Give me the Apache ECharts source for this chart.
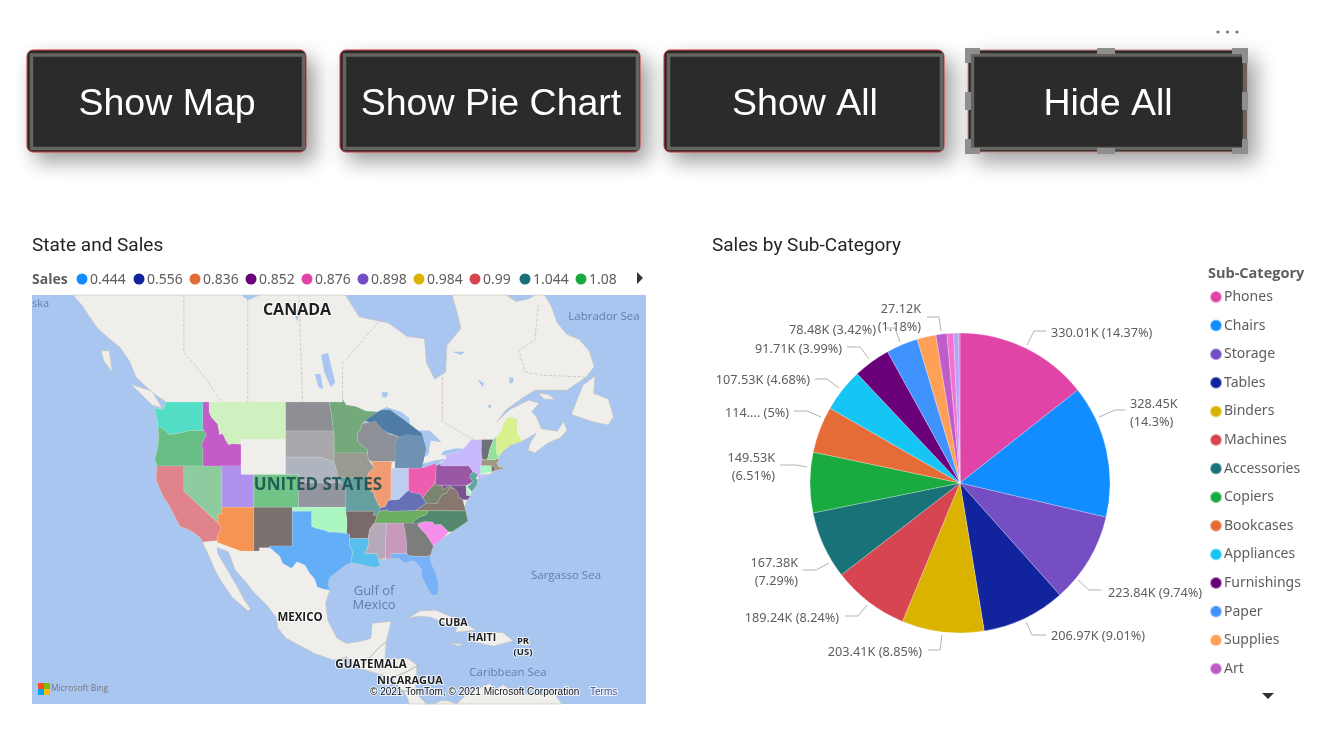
<!DOCTYPE html>
<html>
<head>
    <meta charset="UTF-8">
    <title>State and Sales</title>
    <script src="https://cdn.jsdelivr.net/npm/echarts@6/dist/echarts.min.js"></script>
    <style>
        html, body { margin: 0; background: #fff; }
        #main { width: 1328px; height: 745px; }
    </style>
</head>
<body>
<div id="main"></div>
<script type="text/javascript">
    // pie data
    var subCategories = ['Phones', 'Chairs', 'Storage', 'Tables', 'Binders', 'Machines', 'Accessories', 'Copiers', 'Bookcases', 'Appliances', 'Furnishings', 'Paper', 'Supplies', 'Art', 'Envelopes', 'Labels', 'Fasteners'];
    var subCategorySales = [330.01, 328.45, 223.84, 206.97, 203.41, 189.24, 167.38, 149.53, 114.88, 107.53, 91.71, 78.48, 46.67, 27.12, 16.48, 12.49, 3.02];
    var subCategoryColors = ['#E044A7', '#118DFF', '#744EC2', '#12239E', '#D9B300', '#D64550', '#197278', '#1AAB40', '#E66C37', '#15C6F4', '#6B007B', '#4092FF', '#FFA058', '#BE5DC9', '#F472D0', '#B5A1FF', '#C4A200'];
    var legendVisible = 14;

    // map legend
    var salesBuckets = ['0.444', '0.556', '0.836', '0.852', '0.876', '0.898', '0.984', '0.99', '1.044', '1.08'];
    var salesBucketColors = ['#118DFF', '#12239E', '#E66C37', '#6B007B', '#E044A7', '#744EC2', '#D9B300', '#D64550', '#197278', '#1AAB40'];
    var salesBucketX = [82, 139, 195, 251, 307, 363, 419, 475, 525, 581];

    var buttonLabels = ['Show Map', 'Show Pie Chart', 'Show All', 'Hide All'];

    // outlines in lon/lat, drawn in this order
    var land = {
        Continent: [[-137.4,58.83],[-136,58],[-135,57.2],[-133.5,56],[-131.5,55],[-130,54.3],[-128.5,53],[-127.5,51.5],[-125,50],[-123.2,49.2],[-122.8,49],[-123.2,48.2],[-124.7,48.4],[-124.1,47],[-124.05,46.27],[-123.95,45.3],[-124.1,44],[-124.55,42.85],[-124.2,42],[-124.35,40.4],[-123.8,39.3],[-123,38],[-122.5,37.5],[-121.9,36.6],[-120.6,34.55],[-119.2,34.15],[-118.4,33.75],[-117.3,33],[-117.12,32.53],[-116,30.5],[-115,28.5],[-114,27],[-112.5,25],[-110,23],[-109.5,23.2],[-110.5,24.5],[-111.5,26.2],[-113,28.5],[-114.7,31],[-114.8,31.8],[-113,31.2],[-112,28.8],[-110.5,27.3],[-109,25.6],[-107,23.8],[-105.5,22],[-105.3,20.5],[-104,19],[-102,18],[-99.5,16.7],[-96.5,15.7],[-94.5,16.2],[-92.5,14.5],[-90.5,13.9],[-88,13.2],[-87.5,13],[-85.7,11],[-85,10],[-84.7,9],[-77.3,9],[-78.5,9.45],[-79.6,9.55],[-80.8,9.02],[-82,9.02],[-83,10],[-83.7,11],[-83.5,15],[-85,16],[-88.5,15.8],[-88.3,18.5],[-87.5,21.5],[-90.5,21.2],[-90.7,19],[-92,18.6],[-94.5,18.2],[-96,19],[-97.4,21.5],[-97.8,24],[-97.15,25.95],[-97.4,26.8],[-97.2,27.7],[-95.9,28.6],[-94.7,29.4],[-93.85,29.7],[-92.3,29.55],[-91.3,29.3],[-90.2,29.1],[-89.2,29.3],[-89.55,30.2],[-88.1,30.25],[-87.5,30.3],[-86.4,30.4],[-85.3,29.65],[-84.4,30],[-83.8,30],[-82.8,28.9],[-82.7,27.8],[-81.8,26.1],[-81.1,25.15],[-80.2,25.4],[-80.05,26.8],[-80.5,28.3],[-81.3,29.8],[-81.4,30.72],[-80.9,32.05],[-79.3,33.1],[-77.9,33.9],[-76.5,34.7],[-75.5,35.25],[-75.85,36.55],[-76,37],[-75.6,37.95],[-75.05,38.45],[-74.9,38.93],[-74.1,39.75],[-74,40.4],[-73.7,40.58],[-72,41.05],[-71.15,41.5],[-70.7,41.55],[-70,41.65],[-70.05,41.95],[-70.55,41.8],[-71,42.3],[-70.6,42.65],[-70.7,43.07],[-70,43.75],[-68.8,44.4],[-67,44.85],[-66,45.2],[-64.8,45.7],[-65.7,44.7],[-66.1,43.8],[-65,43.5],[-63,44.6],[-61,45.2],[-60,46],[-60.5,47],[-61.5,45.9],[-64,46.2],[-64.8,47.5],[-65.5,48],[-64.3,48.9],[-66,49.2],[-69,48.2],[-71,46.9],[-69.5,48.2],[-67,49.4],[-65,50.2],[-60,50.2],[-57,51.5],[-55.7,52.5],[-56.5,54],[-58,55],[-60,55.5],[-61.5,56.5],[-62.5,58],[-63.5,58.83],[-65,58.83],[-66,58.5],[-68,58.3],[-69.5,58.83],[-78,58.83],[-77,57],[-76.6,56],[-78.8,54.5],[-79,52],[-80.7,51.3],[-82,52.9],[-82.3,55.1],[-85,55.3],[-88,56.5],[-92.5,57],[-94.7,58.83]],
        Newfoundland: [[-59.3,47.7],[-57.5,50.7],[-55.6,51.6],[-55.8,49.9],[-53.5,49.3],[-52.7,47.5],[-53.5,46.6],[-55.8,46.9]],
        Anticosti: [[-64.5,49.9],[-63,49.8],[-61.8,49.3],[-63.5,49.3]],
        VancouverIsland: [[-128.3,50.8],[-125,50.1],[-123.4,48.4],[-125,48.7]],
        HaidaGwaii: [[-133,54],[-131.7,54],[-131.2,52],[-132.5,53]],
        Cuba: [[-84.9,21.9],[-83,23],[-80.5,23.1],[-77,21.7],[-74.2,20.2],[-77.5,19.85],[-77.2,20.6],[-78.5,21],[-81.5,22.1],[-83.5,22.2]],
        Hispaniola: [[-74.4,18.4],[-73,19.9],[-70,19.8],[-68.4,18.6],[-71.5,17.8]],
        Jamaica: [[-78.3,18.3],[-76.3,18.1],[-77,17.8]],
        PuertoRico: [[-67.2,18.4],[-65.7,18.4],[-65.8,18],[-67.2,18]],
        SouthAmerica: [[-77.3,9],[-75.5,10.7],[-74,11.3],[-72,12.2],[-71.5,11],[-70,12],[-68,10.6],[-64,10.4],[-62,10.7],[-60.8,9]]
    };
    var lakes = {
        Superior: [[-92.1,46.75],[-89.6,48],[-88.3,48.5],[-86,48],[-84.7,47.3],[-84.6,46.5],[-87.5,46.5],[-89,46.9],[-90.4,46.9]],
        Huron: [[-84.7,46],[-83.5,46],[-81.5,46],[-80,45],[-79.7,44.7],[-81.3,44.9],[-81.7,43.3],[-82.4,43],[-82.9,44],[-83.4,45],[-84.7,45.8]],
        Erie: [[-83.45,41.72],[-82.4,41.5],[-80.5,42],[-78.9,42.85],[-80.5,42.65],[-83,42.2]],
        Ontario: [[-79.75,43.3],[-79.05,43.27],[-76.8,43.63],[-76.2,44],[-77.5,44],[-79.3,43.7]],
        Winnipeg: [[-98.5,53.6],[-97.4,53.8],[-96.3,51],[-97,50.5],[-98,52]],
        Manitoba: [[-99.5,51.8],[-98.6,51.8],[-98.2,50.3],[-98.9,50.5]],
        Athabasca: [[-111,58.83],[-108,58.83],[-110,58.4]],
        Reindeer: [[-103,57.6],[-102,57.6],[-102.2,56.6]],
        Nipigon: [[-89,50],[-88,50],[-88.2,49.5],[-88.9,49.5]],
        Mistassini: [[-74,51.3],[-73,50.9],[-73.2,50.5]],
        Manicouagan: [[-69,51.5],[-68.3,51.4],[-68.5,50.9],[-69,50.9]],
        StJohn: [[-72.5,48.7],[-71.8,48.7],[-72,48.3]],
        Robert: [[-78,53.9],[-76,53.9],[-76.5,53.6]]
    };
    var states = {
        WA: [[-124.7,48.4],[-123.2,48.2],[-122.8,49],[-117.03,49],[-117.04,46.4],[-116.92,46],[-118.98,46],[-119.3,45.93],[-121.2,45.65],[-122.3,45.55],[-122.8,45.9],[-123.4,46.25],[-124.05,46.27],[-124.1,47]],
        OR: [[-124.05,46.27],[-123.4,46.25],[-122.8,45.9],[-122.3,45.55],[-121.2,45.65],[-119.3,45.93],[-118.98,46],[-116.92,46],[-116.46,45.6],[-117.2,44.45],[-117.03,43.8],[-117.03,42],[-124.2,42],[-124.55,42.85],[-124.1,44],[-123.95,45.3]],
        CA: [[-124.2,42],[-120,42],[-120,39],[-114.63,35],[-114.15,34.3],[-114.72,33.4],[-114.72,32.72],[-117.12,32.53],[-117.3,33],[-118.4,33.75],[-119.2,34.15],[-120.6,34.55],[-121.9,36.6],[-122.5,37.5],[-123,38],[-123.8,39.3],[-124.35,40.4]],
        NV: [[-120,42],[-114.04,42],[-114.04,36.2],[-114.7,36.1],[-114.63,35],[-120,39]],
        ID: [[-117.03,49],[-116.05,49],[-116.05,48],[-115.7,47.45],[-114.7,46.7],[-114.4,45.55],[-113.9,45.65],[-113.45,44.95],[-113,44.45],[-112.3,44.55],[-111.05,44.48],[-111.05,42],[-117.03,42],[-117.03,43.8],[-117.2,44.45],[-116.46,45.6],[-116.92,46],[-117.04,46.4]],
        MT: [[-116.05,49],[-104.05,49],[-104.05,45],[-111.05,45],[-111.05,44.48],[-112.3,44.55],[-113,44.45],[-113.45,44.95],[-113.9,45.65],[-114.4,45.55],[-114.7,46.7],[-115.7,47.45],[-116.05,48]],
        WY: [[-111.05,45],[-104.05,45],[-104.05,41],[-111.05,41]],
        UT: [[-114.04,42],[-111.05,42],[-111.05,41],[-109.05,41],[-109.05,37],[-114.04,37]],
        AZ: [[-114.04,37],[-109.05,37],[-109.05,31.33],[-111.07,31.33],[-114.81,32.5],[-114.72,32.72],[-114.72,33.4],[-114.15,34.3],[-114.63,35],[-114.7,36.1],[-114.04,36.2]],
        CO: [[-109.05,41],[-102.05,41],[-102.05,37],[-109.05,37]],
        NM: [[-109.05,37],[-103,37],[-103,32],[-106.6,32],[-106.53,31.78],[-108.2,31.78],[-108.2,31.33],[-109.05,31.33]],
        ND: [[-104.05,49],[-97.23,49],[-96.85,47.6],[-96.56,45.94],[-104.05,45.94]],
        SD: [[-104.05,45.94],[-96.56,45.94],[-96.45,45.3],[-96.45,43.5],[-96.5,42.5],[-97.9,42.8],[-98.5,43],[-104.05,43]],
        NE: [[-104.05,43],[-98.5,43],[-97.9,42.8],[-96.5,42.5],[-96.1,41.5],[-95.3,40],[-102.05,40],[-102.05,41],[-104.05,41]],
        KS: [[-102.05,40],[-95.3,40],[-94.62,39.1],[-94.62,37],[-102.05,37]],
        OK: [[-103,37],[-94.62,37],[-94.43,35.4],[-94.48,33.64],[-96,33.8],[-97.2,33.8],[-98.1,34.1],[-99.2,34.3],[-100,34.56],[-100,36.5],[-103,36.5]],
        TX: [[-106.6,32],[-103,32],[-103,36.5],[-100,36.5],[-100,34.56],[-99.2,34.3],[-98.1,34.1],[-97.2,33.8],[-96,33.8],[-94.48,33.64],[-94.04,33.55],[-94.04,32],[-93.55,31.2],[-93.85,29.7],[-94.7,29.4],[-95.9,28.6],[-97.2,27.7],[-97.4,26.8],[-97.15,25.95],[-98.2,26.1],[-99.1,26.4],[-99.5,27.5],[-100.3,28.3],[-101,29.4],[-102.3,29.88],[-103.15,28.98],[-104.5,29.65],[-105,30.65],[-106.53,31.78]],
        MN: [[-97.23,49],[-95.15,49],[-95.15,49.38],[-94.6,48.72],[-93,48.55],[-91.5,48.07],[-89.6,48],[-92.1,46.75],[-92.3,46.1],[-92.85,45.6],[-92.75,44.75],[-91.25,43.85],[-91.22,43.5],[-96.45,43.5],[-96.45,45.3],[-96.56,45.94],[-96.85,47.6]],
        IA: [[-96.45,43.5],[-91.22,43.5],[-91.1,42.7],[-90.15,41.8],[-91.05,41.2],[-91.4,40.4],[-91.72,40.6],[-95.77,40.58],[-96.1,41.5],[-96.5,42.5]],
        MO: [[-95.77,40.58],[-91.72,40.6],[-91.4,40.4],[-91.5,40],[-90.7,39],[-90.15,38.8],[-90.2,38.4],[-89.5,37.3],[-89.15,36.98],[-89.4,36.5],[-89.7,36],[-90.37,36],[-90.15,36.5],[-94.62,36.5],[-94.62,39.1],[-95.3,40]],
        AR: [[-94.62,36.5],[-90.15,36.5],[-90.37,36],[-89.7,36],[-90.1,35],[-90.9,34.2],[-91.15,33],[-94.04,33],[-94.04,33.55],[-94.48,33.64],[-94.43,35.4]],
        LA: [[-94.04,33],[-91.15,33],[-91,32.3],[-91.6,31],[-89.75,31],[-89.55,30.2],[-89.2,29.3],[-90.2,29.1],[-91.3,29.3],[-92.3,29.55],[-93.85,29.7],[-93.55,31.2],[-94.04,32]],
        MS: [[-90.3,35],[-88.2,35],[-88.4,33],[-88.4,30.35],[-89.55,30.2],[-89.75,31],[-91.6,31],[-91,32.3],[-91.15,33],[-90.9,34.2]],
        AL: [[-88.2,35],[-85.6,35],[-85.15,32.8],[-85.05,31],[-87.6,31],[-87.5,30.3],[-88.1,30.25],[-88.4,30.35],[-88.4,33]],
        GA: [[-85.6,35],[-83.1,35],[-83.35,34.7],[-81.9,33.4],[-80.9,32.05],[-81.4,30.72],[-82.2,30.57],[-84.87,30.7],[-85.05,31],[-85.15,32.8]],
        FL: [[-87.6,31],[-85.05,31],[-84.87,30.7],[-82.2,30.57],[-81.4,30.72],[-81.3,29.8],[-80.5,28.3],[-80.05,26.8],[-80.2,25.4],[-81.1,25.15],[-81.8,26.1],[-82.7,27.8],[-82.8,28.9],[-83.8,30],[-84.4,30],[-85.3,29.65],[-86.4,30.4],[-87.5,30.3]],
        SC: [[-83.35,34.7],[-83.1,35],[-82.3,35.2],[-81,35.15],[-80.8,34.82],[-79.67,34.8],[-78.55,33.86],[-79.3,33.1],[-80.9,32.05],[-81.9,33.4]],
        NC: [[-84.32,35],[-83.1,35],[-82.3,35.2],[-81,35.15],[-80.8,34.82],[-79.67,34.8],[-78.55,33.86],[-77.9,33.9],[-76.5,34.7],[-75.5,35.25],[-75.85,36.55],[-81.68,36.59],[-82,36.1],[-83.2,35.75]],
        TN: [[-90.1,35],[-88.2,35],[-85.6,35],[-84.32,35],[-83.2,35.75],[-82,36.1],[-81.68,36.59],[-83.68,36.6],[-88.07,36.5],[-88.07,36.68],[-89.4,36.5],[-89.7,36]],
        KY: [[-89.4,36.5],[-88.07,36.68],[-88.07,36.5],[-83.68,36.6],[-81.97,37.54],[-82.6,38.17],[-83,38.7],[-84.2,38.8],[-84.8,39.1],[-85.4,38.7],[-86.3,38],[-87.6,37.9],[-88.05,37.8],[-88.45,37.1],[-89.15,36.98]],
        VA: [[-83.68,36.6],[-81.68,36.59],[-75.85,36.55],[-76,37],[-76.3,37.9],[-77,38.3],[-77.05,38.85],[-77.7,39.32],[-78.35,39.4],[-78.85,38.75],[-79.65,38.55],[-80.3,37.5],[-81.97,37.54]],
        WV: [[-81.97,37.54],[-80.3,37.5],[-79.65,38.55],[-78.85,38.75],[-78.35,39.4],[-77.7,39.32],[-78.35,39.65],[-79.48,39.2],[-79.48,39.72],[-80.52,39.72],[-80.52,40.64],[-80.85,39.7],[-81.7,39.1],[-82.6,38.17]],
        MD: [[-79.48,39.72],[-75.79,39.72],[-75.7,38.46],[-75.05,38.45],[-75.6,37.95],[-76.3,37.95],[-77,38.3],[-77.05,38.85],[-77.7,39.32],[-78.35,39.65],[-79.48,39.2]],
        DE: [[-75.79,39.72],[-75.4,39.8],[-75.55,39.4],[-75.05,38.45],[-75.7,38.46]],
        PA: [[-80.52,41.98],[-79.76,42.27],[-79.76,42],[-75.35,42],[-74.7,41.36],[-75.13,40.95],[-75.2,40.65],[-74.72,40.15],[-75.4,39.8],[-75.79,39.72],[-80.52,39.72]],
        NJ: [[-74.7,41.36],[-73.9,41],[-74.25,40.5],[-74,40.4],[-74.1,39.75],[-74.9,38.93],[-75.55,39.5],[-74.72,40.15],[-75.2,40.65],[-75.13,40.95]],
        NY: [[-79.76,42.27],[-78.9,42.85],[-79.05,43.27],[-76.8,43.63],[-76.2,44],[-75,44.97],[-73.35,45],[-73.4,43.6],[-73.27,42.75],[-73.5,42.05],[-73.5,41.3],[-73.65,41],[-72,41.05],[-73.7,40.58],[-74.02,40.6],[-73.9,41],[-74.7,41.36],[-75.35,42],[-79.76,42]],
        CT: [[-73.5,42.05],[-71.8,42.02],[-71.8,41.32],[-73.65,41],[-73.5,41.3]],
        RI: [[-71.8,42.02],[-71.38,42.02],[-71.15,41.5],[-71.8,41.32]],
        MA: [[-73.5,42.05],[-73.27,42.75],[-71.3,42.7],[-70.85,42.88],[-70.6,42.65],[-71,42.3],[-70.55,41.8],[-70.05,41.95],[-70,41.65],[-70.7,41.55],[-71.15,41.5],[-71.38,42.02],[-71.8,42.02]],
        VT: [[-73.35,45],[-71.5,45],[-72.05,44],[-72.45,42.73],[-73.27,42.75],[-73.4,43.6]],
        NH: [[-71.5,45],[-71.08,45.3],[-70.98,43.4],[-70.7,43.07],[-70.85,42.88],[-71.3,42.7],[-72.45,42.73],[-72.05,44]],
        ME: [[-71.08,45.3],[-70.3,45.9],[-70,46.7],[-69.2,47.45],[-68.3,47.35],[-67.8,47.07],[-67.8,45.7],[-67,44.85],[-68.8,44.4],[-70,43.75],[-70.7,43.07],[-70.98,43.4]],
        MI: [[-91.6,47.1],[-89.6,48],[-89,48.2],[-87.7,48.2],[-85.2,47],[-82.74,45.7],[-82.06,44],[-82.74,41.72],[-86.9,41.72],[-86.9,44.6],[-86.3,45.3],[-89,46]],
        MI2: [[-86.9,41.72],[-82.74,41.72],[-82.06,44],[-82.74,45.4],[-85,45.6],[-86.3,45.3],[-86.9,44.6]],
        WI: [[-92.85,45.6],[-92.3,46.1],[-92.1,46.75],[-90.4,46.9],[-90.06,47.05],[-89,46.2],[-87.8,45.6],[-86.3,45.3],[-86.9,44.6],[-86.9,42.5],[-90.65,42.5],[-91.1,42.7],[-91.22,43.5],[-91.25,43.85],[-92.75,44.75]],
        IL: [[-90.65,42.5],[-87.4,42.5],[-87.53,41.7],[-87.53,39.3],[-87.6,37.9],[-88.05,37.8],[-88.45,37.1],[-89.15,36.98],[-89.5,37.3],[-90.2,38.4],[-90.15,38.8],[-90.7,39],[-91.5,40],[-91.4,40.4],[-91.05,41.2],[-90.15,41.8]],
        IN: [[-87.53,41.72],[-84.8,41.72],[-84.8,39.1],[-85.4,38.7],[-86.3,38],[-87.6,37.9],[-87.53,39.3]],
        OH: [[-84.8,41.72],[-83.45,41.72],[-82.4,41.8],[-80.52,42.3],[-80.52,40.64],[-80.85,39.7],[-81.7,39.1],[-82.6,38.17],[-83,38.7],[-84.2,38.8],[-84.8,39.1]]
    };
    var stateColors = {
        WA: '#52DDC6', OR: '#68BF85', CA: '#E0838A', NV: '#8ECB9E', ID: '#C35CC8', MT: '#CFF0BF', WY: '#F0EEEA', UT: '#AF92EE', AZ: '#F69553', CO: '#70C485',
        NM: '#7B7270', ND: '#8E8F94', SD: '#ABA8AD', NE: '#AEB5BF', KS: '#93959F', OK: '#ACF6C2', TX: '#63AEF7', MN: '#74A97C', IA: '#9A9B90', MO: '#669F9F',
        AR: '#786A68', LA: '#58BFEC', MS: '#B4AABA', AL: '#C899BA', GA: '#7D7D7D', FL: '#78B1F8', SC: '#F68FEC', NC: '#55896F', TN: '#6CAD60', KY: '#6670B4',
        VA: '#86786E', WV: '#7A8570', OH: '#EE5DB0', IN: '#BCCDF0', IL: '#F19B72', WI: '#8D9197', MI: '#4E7CA6', MI2: '#6E92B2', PA: '#9A57A6', NY: '#C8B8FB',
        NJ: '#5FA79F', DE: '#A6F5C4', MD: '#7A528F', CT: '#A6F5C4', MA: '#9F9882', RI: '#7A7570', VT: '#70707A', NH: '#93E39C', ME: '#D8F08E'
    };
    var provinceBorders = [
        [[-120,58.83],[-120,53.8],[-118,52.5],[-116,50.8],[-114.05,49]],
        [[-110,58.83],[-110,49]],
        [[-102,58.83],[-101.4,49]],
        [[-95.15,49.38],[-95.15,52.8],[-89,56.9]],
        [[-79.5,51.5],[-79.5,47],[-76,45.5],[-74.5,45]],
        [[-57.1,51.5],[-64,51.7],[-66.5,52],[-67.5,54],[-65,55],[-64.5,58]],
        [[-73.35,45],[-71.5,45]],
        [[-67.8,47.07],[-68.3,47.35]]
    ];
    var countryBorders = [
        [[-92.2,14.5],[-91,16],[-89.2,17.8],[-88.3,18.5]],
        [[-89.2,15.9],[-89.3,14.3]],
        [[-87.5,13],[-85,14],[-83.2,15]],
        [[-85.7,11],[-83.7,11]]
    ];

    var LAND = '#EFEEEA', WATER = '#A9C6F0';
    var mapBox = {left: 32, top: 295, width: 614, height: 409};

    function mercator(lat) {
        return Math.log(Math.tan(Math.PI / 4 + lat * Math.PI / 360)) * 180 / Math.PI;
    }

    function feature(name, ring) {
        return {type: 'Feature', properties: {name: name}, geometry: {type: 'Polygon', coordinates: [ring]}};
    }

    var features = [feature('Ocean', [[-143.8,58.83],[-47.6,58.83],[-47.6,9],[-143.8,9]])];
    var regions = [{name: 'Ocean', itemStyle: {areaColor: WATER, borderWidth: 0}}];
    Object.keys(land).forEach(function (k) {
        features.push(feature(k, land[k]));
        regions.push({name: k, itemStyle: {areaColor: LAND, borderColor: '#C4C1B8', borderWidth: 0.6}});
    });
    Object.keys(lakes).forEach(function (k) {
        features.push(feature(k, lakes[k]));
        regions.push({name: k, itemStyle: {areaColor: WATER, borderWidth: 0}});
    });
    Object.keys(states).forEach(function (k) {
        features.push(feature(k, states[k]));
        var edge = k === 'MI2' ? 0 : 0.5;
        regions.push({name: k, itemStyle: {areaColor: stateColors[k], borderColor: 'rgba(255,255,255,0.25)', borderWidth: edge}});
    });
    echarts.registerMap('northAmerica', {type: 'FeatureCollection', features: features});

    // where each pie label sits, with its leader line
    var labelSpots = {
        0: {x: 1051, y: 333, align: 'left', line: [[1027,345],[1034,331],[1046,331]]},
        1: {x: 1130, y: 413, align: 'left', line: [[1099,417],[1115,410],[1125,410]]},
        2: {x: 1108, y: 593, align: 'left', line: [[1078,580],[1089,590],[1101,590]]},
        3: {x: 1051, y: 636, align: 'left', line: [[1026,622],[1032,635],[1046,635]]},
        4: {x: 922, y: 652, align: 'right', line: [[942,635],[940,650],[928,650]]},
        5: {x: 839, y: 618, align: 'right', line: [[867,605],[858,616],[845,616]]},
        6: {x: 798, y: 572, align: 'right', line: [[829,563],[816,570],[803,570]]},
        7: {x: 775, y: 467, align: 'right', line: [[807,467],[797,465],[780,465]]},
        8: {x: 789, y: 413, align: 'right', line: [[821,417],[807,411],[794,411]]},
        9: {x: 810, y: 380, align: 'right', line: [[839,388],[827,379],[815,379]]},
        10: {x: 842, y: 349, align: 'right', line: [[869,359],[860,347],[847,347]]},
        11: {x: 876, y: 330, align: 'right', line: [[900,342],[895,328],[885,328]]},
        13: {x: 921, y: 318, align: 'right', line: [[941,331],[939,317],[927,317]]}
    };
    var wrappedLabels = [1, 6, 7, 13];

    function pieLabel(p) {
        var i = p.dataIndex;
        var head = i === 8 ? '114....' : p.value + 'K';
        return head + (wrappedLabels.indexOf(i) >= 0 ? '\n' : ' ') + '(' + p.percent + '%)';
    }

    function text(x, y, str, font, extra) {
        var style = {x: x, y: y + 1, text: str, font: font, fill: '#222', align: 'center', verticalAlign: 'middle'};
        for (var k in extra) { style[k] = extra[k]; }
        return {type: 'text', z: 20, silent: true, style: style};
    }

    function box(x, y, w, h, fill) {
        return {type: 'rect', z: 21, silent: true, shape: {x: x, y: y, width: w, height: h}, style: {fill: fill}};
    }

    var graphics = [];

    // buttons
    var buttonBoxes = [[27, 50, 279, 102], [340, 50, 300, 102], [664, 50, 280, 102], [968, 50, 279, 102]];
    var buttonCenters = [167, 491, 805, 1108];
    buttonBoxes.forEach(function (b, i) {
        var radius = i === 3 ? 0 : 6;
        graphics.push({
            type: 'rect', z: 10, silent: true,
            shape: {x: b[0], y: b[1], width: b[2], height: b[3], r: radius},
            style: {fill: '#2B2B2B', stroke: i === 3 ? '#D98A8A' : '#D0353C', lineWidth: 1, shadowBlur: 20, shadowOffsetX: 8, shadowOffsetY: 9, shadowColor: 'rgba(0,0,0,0.38)'}
        });
        graphics.push({
            type: 'rect', z: 11, silent: true,
            shape: {x: b[0] + 4.5, y: b[1] + 5, width: b[2] - 7, height: b[3] - 8.5},
            style: {fill: 'none', stroke: '#66645F', lineWidth: 3.5}
        });
        graphics.push(text(buttonCenters[i], 104, buttonLabels[i], '37.5px "Liberation Sans"', {fill: '#fff'}));
    });

    // selection frame on the last button
    var handle = '#8E8E8E';
    [[965, 48], [1232, 48]].forEach(function (c) { graphics.push(box(c[0], c[1], 15, 6, handle)); });
    [[965, 148], [1232, 148]].forEach(function (c) { graphics.push(box(c[0], c[1], 15, 6, handle)); });
    [[965, 48], [1242, 48], [965, 139], [1242, 139]].forEach(function (c) { graphics.push(box(c[0], c[1], 6, 15, handle)); });
    graphics.push(box(1097, 48, 18, 6, handle), box(1097, 148, 18, 6, handle), box(965, 92, 6, 18, handle), box(1242, 92, 6, 18, handle));
    [1218, 1227.5, 1237].forEach(function (x) {
        graphics.push({type: 'circle', z: 21, silent: true, shape: {cx: x, cy: 32, r: 1.6}, style: {fill: '#777'}});
    });

    // sales legend over the map
    graphics.push(text(32, 279, 'Sales', 'bold 14px "Open Sans"', {align: 'left', fill: '#605E5C'}));
    salesBuckets.forEach(function (name, i) {
        graphics.push({type: 'circle', z: 20, silent: true, shape: {cx: salesBucketX[i], cy: 279, r: 5.5}, style: {fill: salesBucketColors[i]}});
        graphics.push(text(salesBucketX[i] + 8, 279, name, '14px "Noto Sans"', {align: 'left', fill: '#605E5C'}));
    });
    graphics.push({type: 'polygon', z: 20, silent: true, shape: {points: [[637, 272], [643, 278], [637, 284]]}, style: {fill: '#333'}});

    // map labels
    var halo = {stroke: 'rgba(255,255,255,0.8)', lineWidth: 2};
    function placeLabel(x, y, str, size) {
        graphics.push(text(x, y, str, 'bold ' + size + 'px "Open Sans"', {fill: '#1E1E1E', stroke: halo.stroke, lineWidth: halo.lineWidth}));
    }
    placeLabel(297, 309, 'CANADA', 16);
    placeLabel(300, 617, 'MEXICO', 11.5);
    placeLabel(453, 622, 'CUBA', 10.5);
    placeLabel(482, 637, 'HAITI', 10.5);
    placeLabel(523, 640, 'PR', 9.5);
    placeLabel(523, 651, '(US)', 9.5);
    placeLabel(371, 664, 'GUATEMALA', 11.5);
    placeLabel(410, 680, 'NICARAGUA', 11);
    graphics.push(text(318, 484, 'UNITED STATES', 'bold 17px "Open Sans"', {fill: 'rgba(15,70,75,0.8)'}));
    var waterInk = '#5F7DB0';
    graphics.push(text(374, 590, 'Gulf of', '13px "Open Sans"', {fill: waterInk}));
    graphics.push(text(374, 604, 'Mexico', '13px "Open Sans"', {fill: waterInk}));
    graphics.push(text(566, 575, 'Sargasso Sea', '11.5px "Open Sans"', {fill: waterInk}));
    graphics.push(text(508, 672, 'Caribbean Sea', '11.5px "Open Sans"', {fill: waterInk}));
    graphics.push(text(604, 316, 'Labrador Sea', '11.5px "Open Sans"', {fill: waterInk}));
    graphics.push(text(32, 303, 'ska', '11px "Open Sans"', {fill: waterInk, align: 'left'}));

    // map footer
    graphics.push(box(38, 683, 6, 6, '#F25022'), box(44, 683, 6, 6, '#7FBA00'), box(38, 689, 6, 6, '#00A4EF'), box(44, 689, 6, 6, '#FFB900'));
    graphics.push(text(51, 688, 'Microsoft Bing', '8.5px "Open Sans"', {align: 'left', fill: '#767676'}));
    graphics.push(text(370, 691, '© 2021 TomTom, © 2021 Microsoft Corporation', '10px "Liberation Sans"', {align: 'left', fill: '#111', stroke: 'rgba(255,255,255,0.8)', lineWidth: 2}));
    graphics.push(text(590, 691, 'Terms', '10px "Liberation Sans"', {align: 'left', fill: '#3A4F9A', stroke: 'rgba(255,255,255,0.8)', lineWidth: 2}));

    // pie legend heading and scroll arrow
    graphics.push(text(1208, 273, 'Sub-Category', 'bold 14.5px "Open Sans"', {align: 'left', fill: '#605E5C'}));
    graphics.push({type: 'polygon', z: 20, silent: true, shape: {points: [[1262, 693], [1274, 693], [1268, 699]]}, style: {fill: '#333'}});

    var titleFont = {fontFamily: 'Roboto', fontSize: 19, fontWeight: 'normal', color: '#252423'};

    var myChart = echarts.init(document.getElementById('main'), null, {renderer: 'canvas'});
    var option = {
        animation: false,
        backgroundColor: '#fff',
        title: [
            {text: 'State and Sales', left: 32, top: 237, padding: 0, textStyle: titleFont},
            {text: 'Sales by Sub-Category', left: 712, top: 237, padding: 0, textStyle: titleFont}
        ],
        legend: {
            orient: 'vertical',
            left: 1209,
            top: 289,
            padding: 0,
            data: subCategories.slice(0, legendVisible),
            icon: 'circle',
            itemWidth: 12,
            itemHeight: 12,
            itemGap: 12.6,
            selectedMode: false,
            textStyle: {fontFamily: 'Noto Sans', fontSize: 14, color: '#605E5C', lineHeight: 16, padding: [0, 0, 0, -3]}
        },
        geo: {
            map: 'northAmerica',
            left: mapBox.left,
            top: mapBox.top,
            width: mapBox.width,
            height: mapBox.height,
            roam: false,
            silent: true,
            projection: {
                project: function (c) { return [c[0], -mercator(c[1])]; },
                unproject: function (p) { return [p[0], (Math.atan(Math.exp(-p[1] * Math.PI / 180)) * 360 / Math.PI) - 90]; }
            },
            label: {show: false},
            itemStyle: {areaColor: LAND, borderWidth: 0},
            regions: regions
        },
        series: [
            {
                type: 'lines',
                coordinateSystem: 'geo',
                polyline: true,
                silent: true,
                lineStyle: {color: '#C6C3BA', width: 0.8, type: 'dashed', opacity: 1},
                data: provinceBorders.map(function (c) { return {coords: c}; })
            },
            {
                type: 'lines',
                coordinateSystem: 'geo',
                polyline: true,
                silent: true,
                lineStyle: {color: '#A8A59C', width: 0.8, opacity: 1},
                data: countryBorders.map(function (c) { return {coords: c}; })
            },
            {
                name: 'Sales by Sub-Category',
                type: 'pie',
                center: [960, 483],
                radius: 150,
                startAngle: 90,
                clockwise: true,
                percentPrecision: 2,
                silent: true,
                itemStyle: {borderColor: 'rgba(255,255,255,0.5)', borderWidth: 0.5},
                label: {
                    show: true,
                    position: 'outside',
                    formatter: pieLabel,
                    fontFamily: 'Noto Sans',
                    fontSize: 12.7,
                    lineHeight: 18,
                    color: '#605E5C'
                },
                labelLine: {show: true, lineStyle: {color: '#B5B3B0', width: 1}},
                labelLayout: function (p) {
                    var s = labelSpots[p.dataIndex];
                    if (!s) { return {}; }
                    return {x: s.x, y: s.y, align: s.align, verticalAlign: 'middle', labelLinePoints: s.line};
                },
                data: subCategories.map(function (name, i) {
                    var shown = labelSpots[i] !== undefined;
                    return {
                        name: name,
                        value: subCategorySales[i],
                        itemStyle: {color: subCategoryColors[i]},
                        label: {show: shown},
                        labelLine: {show: shown}
                    };
                })
            }
        ],
        graphic: {elements: graphics}
    };
    myChart.setOption(option);
</script>
</body>
</html>
